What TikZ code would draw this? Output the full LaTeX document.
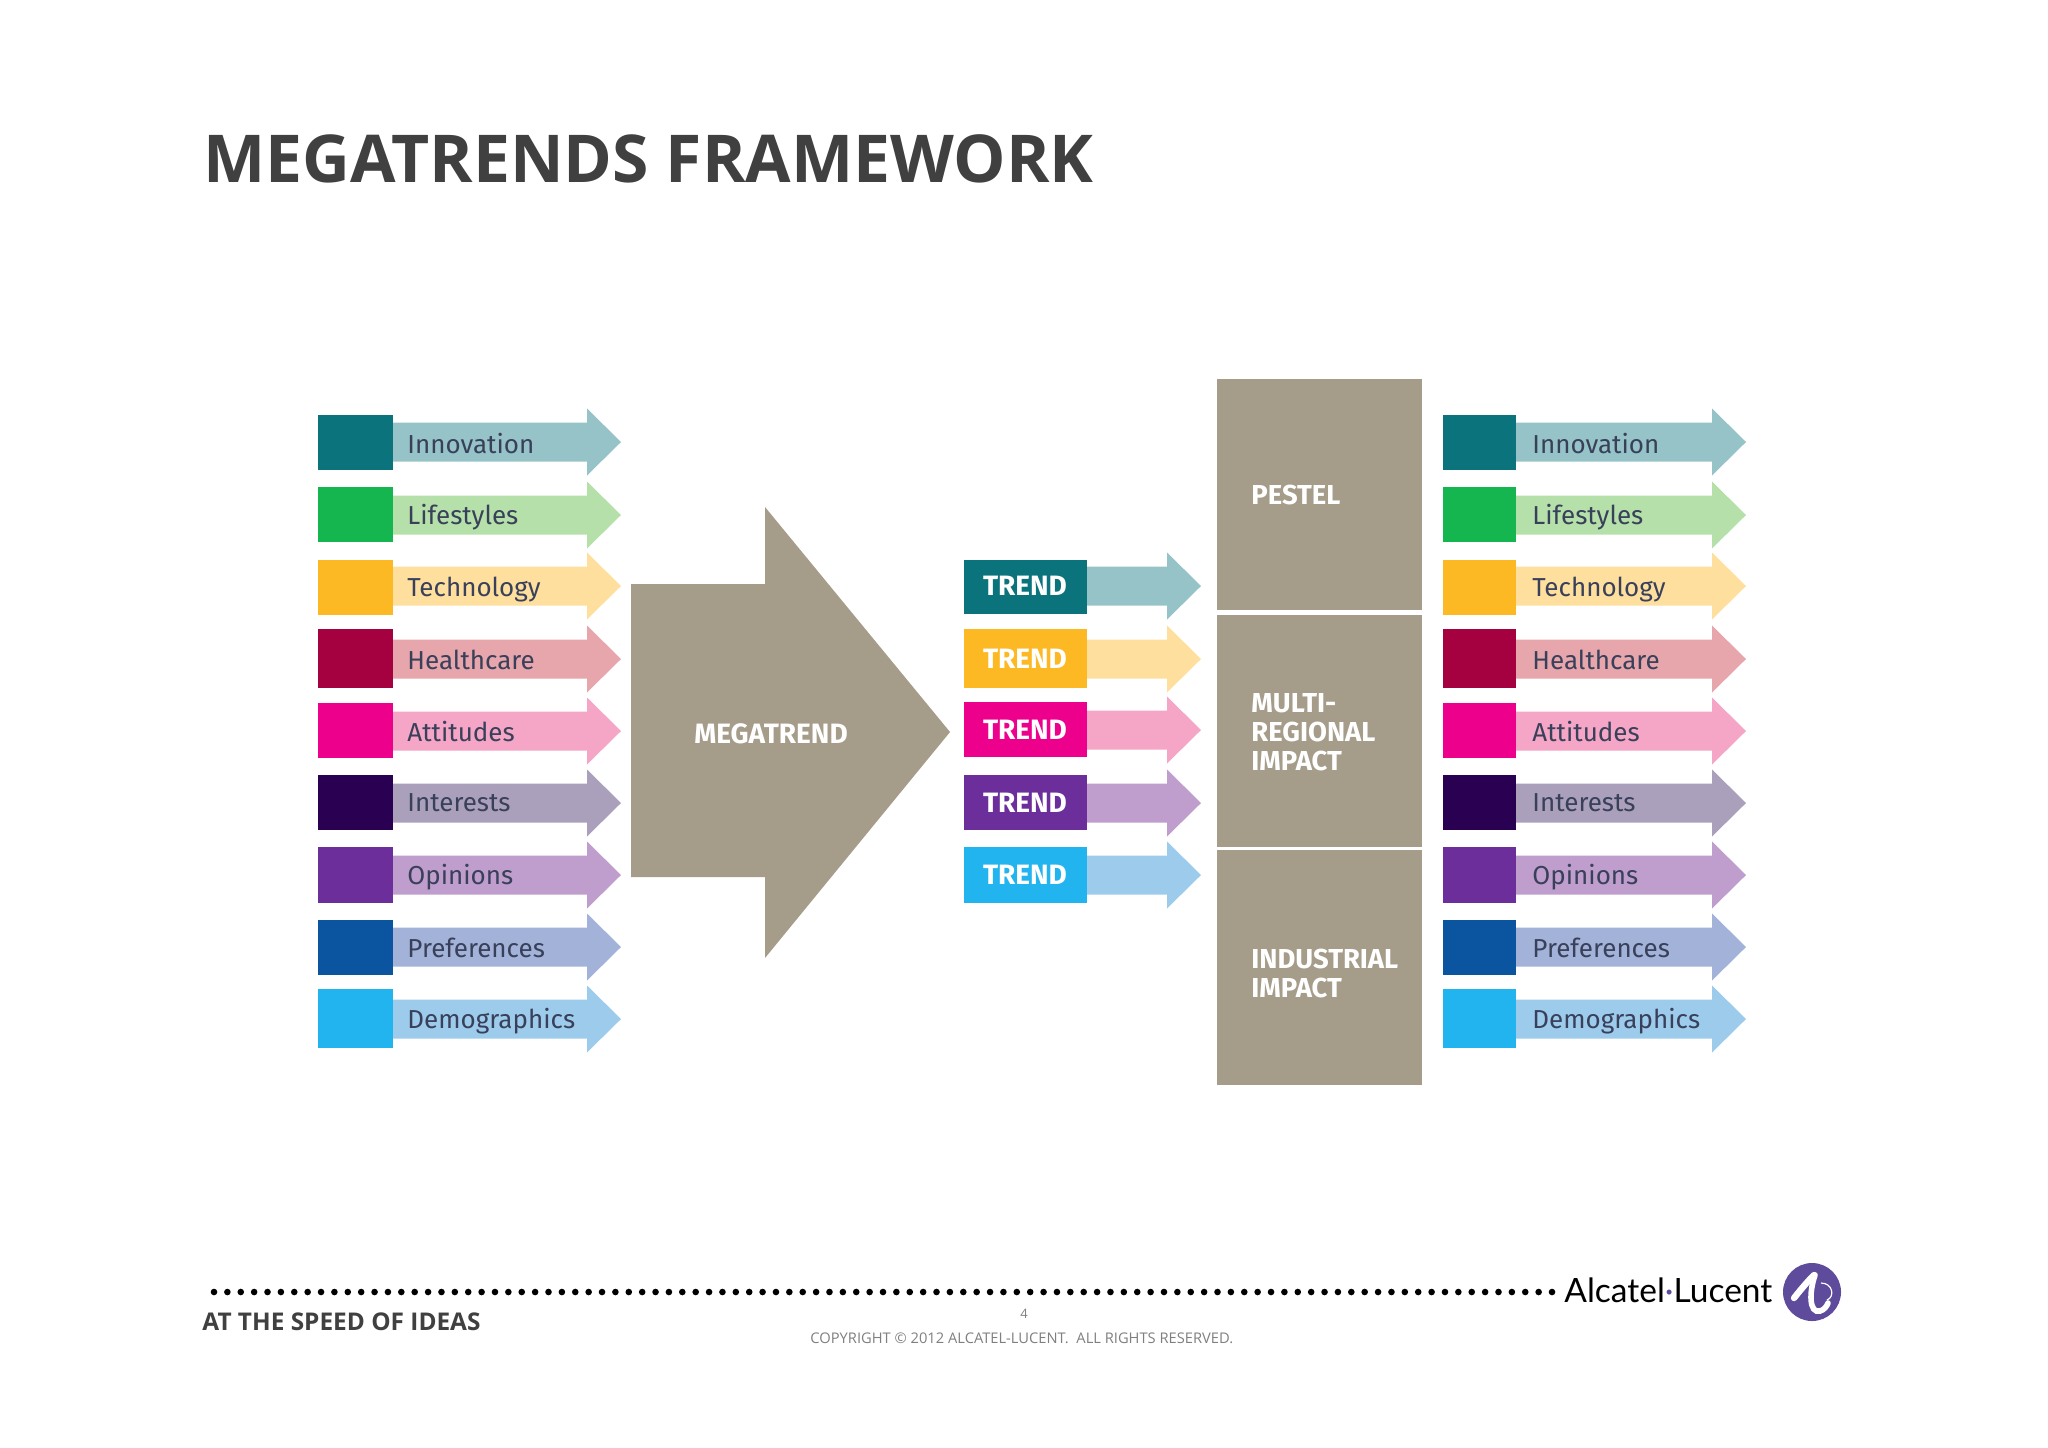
\documentclass[tikz,border=0pt]{standalone}
\usepackage{fontspec}
\setmainfont{Fira Sans}
\newfontfamily\titlefont{Open Sans}
\newfontfamily\logofont{Lato}
\definecolor{cteal}{HTML}{0A737C}\definecolor{ateal}{HTML}{96C3C7}
\definecolor{cgreen}{HTML}{15B550}\definecolor{agreen}{HTML}{B5E0A9}
\definecolor{cyellow}{HTML}{FDB924}\definecolor{ayellow}{HTML}{FEDF9E}
\definecolor{ccrim}{HTML}{A50040}\definecolor{acrim}{HTML}{E7A5AC}
\definecolor{cmag}{HTML}{EC008C}\definecolor{amag}{HTML}{F5A5C5}
\definecolor{cdark}{HTML}{2A0052}\definecolor{adark}{HTML}{ABA0BC}
\definecolor{cpurp}{HTML}{6B2E9B}\definecolor{apurp}{HTML}{BF9DCC}
\definecolor{cnavy}{HTML}{0B55A0}\definecolor{anavy}{HTML}{A2B2D8}
\definecolor{csky}{HTML}{22B4EE}\definecolor{asky}{HTML}{9CCBEC}
\definecolor{brownbox}{HTML}{A69C8A}
\definecolor{labelink}{HTML}{39405A}
\definecolor{titleink}{HTML}{404040}
\definecolor{footgrey}{HTML}{7F7F7F}
\definecolor{logopurple}{HTML}{5F4B9B}
\newcommand{\blockarrow}[5]{% start, neck, tip, y, colour
  \fill[#5] (#1,#4-19.5) -- (#2,#4-19.5) -- (#2,#4-33.5) -- (#3,#4) -- (#2,#4+33.5) -- (#2,#4+19.5) -- (#1,#4+19.5) -- cycle;}
\tikzset{
  rowlabel/.style={anchor=mid west,inner sep=0pt,text=labelink,font=\fontsize{13}{13}\selectfont},
  boxtitle/.style={anchor=west,inner sep=0pt,text=white,align=left,font=\fontsize{13.7}{14.5}\selectfont\bfseries},
  trendlabel/.style={anchor=mid,inner sep=0pt,text=white,font=\fontsize{14}{14}\selectfont\bfseries},
  brownpanel/.style={fill=brownbox},
  footdot/.style={fill=black},
}
\begin{document}
\begin{tikzpicture}[x=0.5pt,y=-0.5pt]
\useasboundingbox (0,0) rectangle (2048,1447);
% title
\node[anchor=mid west,inner sep=0pt,text=titleink,font=\titlefont\fontsize{33}{34}\selectfont\bfseries] (title) at (203,177) {MEGATRENDS FRAMEWORK};
% left and right rows
\foreach \n/\t/\a/\b/\y/\l/\c/\d in {
 inno/Innovation/415/470/442/448/cteal/ateal,
 life/Lifestyles/487/542/515/519/cgreen/agreen,
 tech/Technology/560/615/586/591/cyellow/ayellow,
 heal/Healthcare/629/688/659/664/ccrim/acrim,
 atti/Attitudes/703/758/731/736/cmag/amag,
 inte/Interests/775/830/803/806/cdark/adark,
 opin/Opinions/847/903/875/879/cpurp/apurp,
 pref/Preferences/920/975/947/952/cnavy/anavy,
 demo/Demographics/989/1048/1019/1023/csky/asky}{
  \blockarrow{390}{587}{621}{\y}{\d}
  \fill[\c] (318,\a) rectangle (393,\b);
  \node[rowlabel] (L\n) at (407,\l) {\t};
  \blockarrow{1513}{1712}{1746}{\y}{\d}
  \fill[\c] (1443,\a) rectangle (1516,\b);
  \node[rowlabel] (R\n) at (1532,\l) {\t};
}
% megatrend arrow
\fill[brownbox] (631,584) -- (765,584) -- (765,507) -- (950,732) -- (765,958) -- (765,877) -- (631,877) -- cycle;
\node[trendlabel] (mega) at (771,738) {MEGATREND};
% trends
\foreach \n/\a/\b/\y/\c/\d in {
 a/560/614/586/cteal/ateal,
 b/629/688/659/cyellow/ayellow,
 c/702/757/730/cmag/amag,
 d/775/830/803/cpurp/apurp,
 e/847/903/875/csky/asky}{
  \blockarrow{1084}{1167}{1201}{\y}{\d}
  \fill[\c] (964,\a) rectangle (1087,\b);
  \node[trendlabel] (trend\n) at (1025,\y+4) {TREND};
}
% panels
\fill[brownpanel] (1217,379) rectangle (1422,610);
\fill[brownpanel] (1217,615) rectangle (1422,847);
\fill[brownpanel] (1217,850) rectangle (1422,1085);
\node[boxtitle] (pestel) at (1251,495) {PESTEL};
\node[boxtitle] (multi) at (1251,732) {MULTI-\\REGIONAL\\IMPACT};
\node[boxtitle] (indus) at (1251,973) {INDUSTRIAL\\IMPACT};
% footer
\foreach \i in {0,...,100}{\fill[footdot] ({214+13.38*\i},1292) circle (3.3);}
\node[anchor=mid west,inner sep=0pt,text=titleink,font=\titlefont\fontsize{12.2}{13}\selectfont\bfseries] (tagline) at (202,1325) {AT THE SPEED OF IDEAS};
\node[anchor=mid,inner sep=0pt,text=footgrey,font=\titlefont\fontsize{6.5}{7}\selectfont] (page) at (1024,1313) {4};
\node[anchor=mid west,inner sep=0pt,text=footgrey,font=\titlefont\fontsize{7.35}{8}\selectfont] (copy) at (810,1338) {COPYRIGHT © 2012 ALCATEL-LUCENT.\ \ ALL RIGHTS RESERVED.};
\node[anchor=base west,inner sep=0pt,text=black,font=\logofont\fontsize{16.75}{17}\selectfont] (brand) at (1564,1302) {Alcatel{\color{logopurple}·}Lucent};
% logo
\fill[logopurple] (1812,1292) circle (29);
\draw[white,line width=3.2pt,line cap=round] (1794,1298) .. controls (1802,1288) and (1808,1281) .. (1814,1275);
\draw[white,line width=2.8pt,line cap=round] (1815,1275) .. controls (1809,1292) and (1809,1314) .. (1820,1311) .. controls (1824,1310) and (1827,1306) .. (1828,1303);
\draw[white,line width=0.6pt] (1821,1283) .. controls (1833,1283) and (1835,1297) .. (1827,1300);
\end{tikzpicture}
\end{document}
